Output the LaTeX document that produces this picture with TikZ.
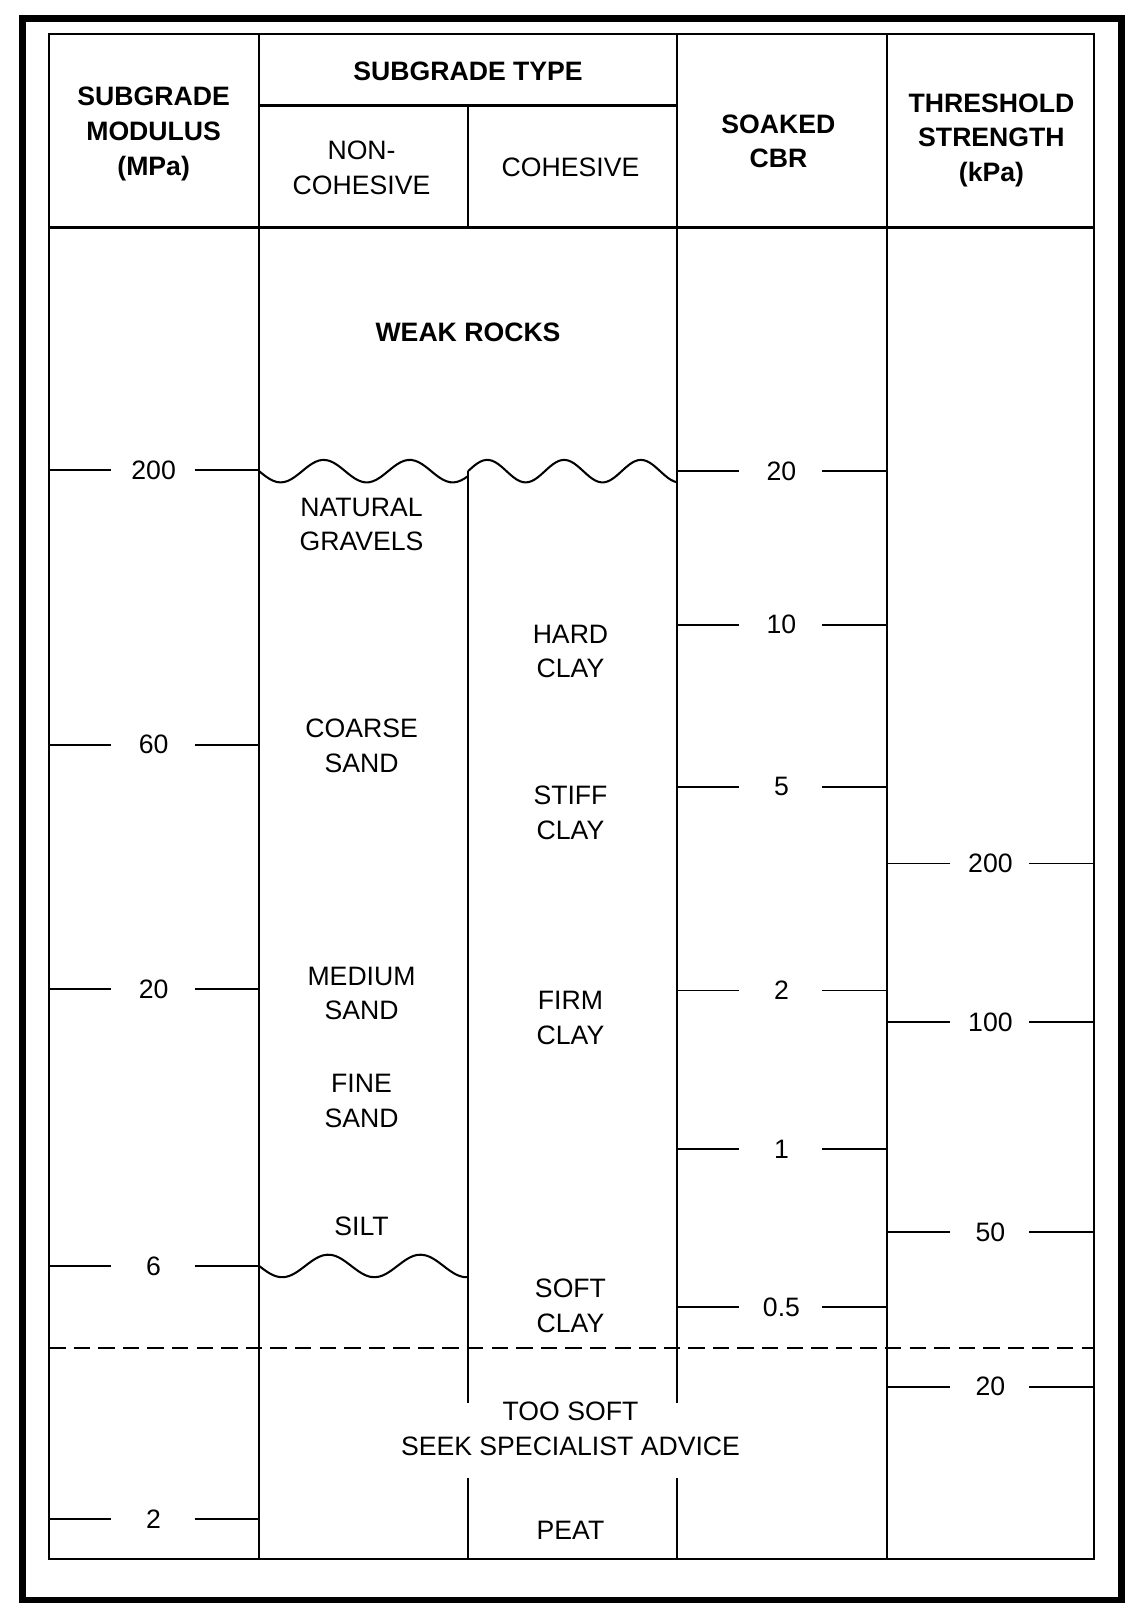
\documentclass[tikz,border=0pt]{standalone}
\usepackage{fontspec}
\setmainfont{Liberation Sans}
\begin{document}
\begin{tikzpicture}[x=1pt,y=-1pt,line width=2.2pt,
  lab/.style={font=\fontsize{26}{34}\selectfont,align=center,inner sep=0pt},
  hd/.style={lab,font=\fontsize{26}{34}\selectfont\bfseries},
  tk/.style={line width=1.8pt}]
\useasboundingbox (0,0) rectangle (1110,1569);
\draw[line width=6pt] (22,18) rectangle (1095,1562);
% table frame
\draw (48,33) rectangle (1068,1522);
\draw (48,222) -- (1068,222);
\draw (253,33) -- (253,1522);
\draw (661,33) -- (661,1370) (661,1443) -- (661,1522);
\draw (866,33) -- (866,1522);
\draw (253,103) -- (661,103);
\draw (457,103) -- (457,222);
\draw (457,460) -- (457,1370) (457,1443) -- (457,1522);
% wavy lines
\draw[line width=2pt] plot[smooth,samples=60,domain=0:204] ({253+\x},{460+11*sin(4.2857*\x)});
\draw[line width=2pt] plot[smooth,samples=70,domain=0:204] ({457+\x},{460-11*sin(4.8*\x)});
\draw[line width=2pt] plot[smooth,samples=50,domain=0:204] ({253+\x},{1236+11*sin(4.0*\x)});
% dashed line
\draw[dash pattern=on 16pt off 8pt] (48,1316) -- (1068,1316);
% header
\node[hd] (hmod) at (150,131) {SUBGRADE\\MODULUS\\(MPa)};
\node[hd] (htype) at (457,70) {SUBGRADE TYPE};
\node[lab] (hnon) at (353,164) {NON-\\COHESIVE};
\node[lab] (hcoh) at (557,163) {COHESIVE};
\node[hd] (hcbr) at (760,138) {SOAKED\\CBR};
\node[hd] (hthr) at (968,137) {THRESHOLD\\STRENGTH\\(kPa)};
% body labels
\node[hd] (weak) at (457,324) {WEAK ROCKS};
\node[lab] (grav) at (353,512) {NATURAL\\GRAVELS};
\node[lab] (hard) at (557,636) {HARD\\CLAY};
\node[lab] (coarse) at (353,728) {COARSE\\SAND};
\node[lab] (stiff) at (557,794) {STIFF\\CLAY};
\node[lab] (medium) at (353,970) {MEDIUM\\SAND};
\node[lab] (firm) at (557,994) {FIRM\\CLAY};
\node[lab] (fine) at (353,1075) {FINE\\SAND};
\node[lab] (silt) at (353,1197) {SILT};
\node[lab] (soft) at (557,1275) {SOFT\\CLAY};
\node[lab] (too) at (557,1395) {TOO SOFT\\SEEK SPECIALIST ADVICE};
\node[lab] (peat) at (557,1494) {PEAT};
% ticks
\foreach \v/\y in {200/459,60/727,20/966,6/1236,2/1483}{
  \node[lab] (m\v) at (150,\y) {\v};
  \draw[tk] (48,\y) -- (108,\y) (190,\y) -- (253,\y);}
\foreach \v/\n/\y in {20/a/460,10/b/610,5/c/768,2/d/967,1/e/1122,0.5/f/1276}{
  \node[lab] (c\n) at (763,\y) {\v};
  \draw[tk] (661,\y) -- (722,\y) (803,\y) -- (866,\y);}
\foreach \v/\y in {200/843,100/998,50/1203,20/1354}{
  \node[lab] (t\v) at (967,\y) {\v};
  \draw[tk] (866,\y) -- (928,\y) (1005,\y) -- (1068,\y);}
\end{tikzpicture}
\end{document}
